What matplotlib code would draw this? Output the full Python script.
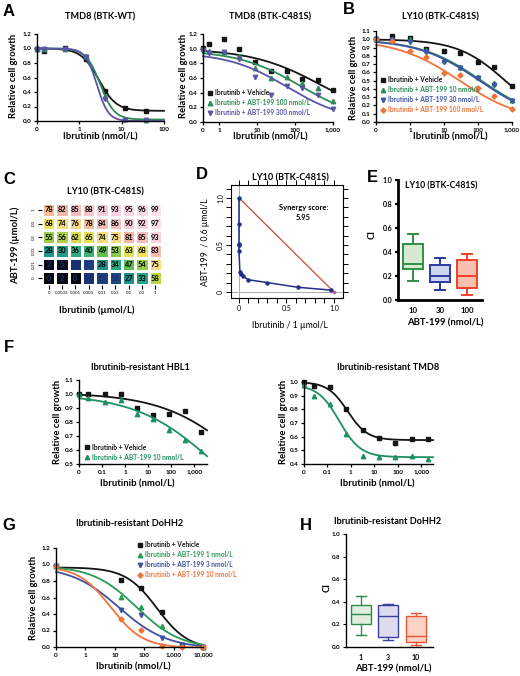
import numpy as np
import matplotlib
matplotlib.use("Agg")
import matplotlib.pyplot as plt
from matplotlib.colors import LinearSegmentedColormap
from matplotlib.ticker import FixedLocator, NullLocator, MultipleLocator

plt.rcParams['font.family'] = ['Lato', 'DejaVu Sans']
plt.rcParams['font.weight'] = 'bold'
plt.rcParams['axes.labelweight'] = 'bold'

# ---------------- data ----------------
BLACK = '#151515'
GREEN = '#2e8b57'
PURPLE = '#5a55a8'
BLUE = '#3f55a8'
ORANGE = '#f0743a'

# A left: TMD8 (BTK-WT)
a_wt_dose = [0, 0.15, 0.46, 1.4, 4.1, 12.3, 37]
a_wt_vehicle = [1.0, 0.97, 1.01, 0.85, 0.41, 0.18, 0.14]
a_wt_abt100 = [1.0, 1.0, 1.0, 0.89, 0.35, 0.03, 0.02]
a_wt_abt300 = [1.0, 1.0, 1.0, 0.88, 0.30, 0.01, 0.01]
# fit params: top, bottom, ic50, slope
a_wt_fits = [[1.0, 0.14, 2.87, 2.1], [1.0, 0.02, 3.1, 2.6], [1.0, 0.0, 2.6, 3.2]]

# A right: TMD8 (BTK-C481S)
a_mut_dose = [0, 0.53, 1.3, 3.3, 8.7, 23, 60, 153, 390, 1000]
a_mut_vehicle = [1.01, 1.06, 1.13, 0.99, 0.82, 0.70, 0.70, 0.59, 0.57, 0.43]
a_mut_abt100 = [1.0, 0.97, 0.96, 0.90, 0.73, 0.60, 0.62, 0.53, 0.47, 0.28]
a_mut_abt300 = [0.98, 0.94, 0.95, 0.86, 0.61, 0.37, 0.49, 0.46, 0.37, 0.18]
a_mut_fits = [[1.0, 0.0, 504, 0.47], [0.98, 0.0, 140, 0.52], [0.95, 0.0, 63, 0.55]]

# B: LY10 (BTK-C481S)
b_dose = [0, 0.3, 1, 3, 10, 30, 100, 300, 1000]
b_vehicle = [1.0, 1.04, 1.01, 0.88, 0.86, 0.84, 0.73, 0.67, 0.43]
b_abt10 = [1.0, 1.0, 1.0, 0.87, 0.75, 0.67, 0.54, 0.47, 0.26]
b_abt30 = [1.0, 0.99, 0.97, 0.85, 0.73, 0.65, 0.53, 0.45, 0.25]
b_abt100 = [1.0, 0.98, 0.86, 0.78, 0.59, 0.565, 0.415, 0.32, 0.16]
b_fits = [[1.0, 0.0, 630, 0.62], [1.0, 0.0, 125, 0.48], [1.0, 0.0, 110, 0.48], [1.0, 0.0, 28.7, 0.467]]

# C: heatmap (% inhibition), rows ABT-199 0 -> 1 umol/L
c_ibr_labels = ['0', '0.0003', '0.001', '0.003', '0.01', '0.03', '0.1', '0.3', '1']
c_abt_labels = ['0', '0.01', '0.03', '0.1', '0.3', '1']
c_row_0 = [0, 2, 0, 12, 15, 16, 27, 33, 58]
c_row_001 = [2, 5, 11, 15, 28, 34, 47, 54, 75]
c_row_003 = [28, 30, 36, 40, 49, 53, 63, 68, 83]
c_row_01 = [55, 56, 62, 65, 74, 75, 81, 85, 93]
c_row_03 = [68, 74, 76, 78, 84, 86, 90, 92, 97]
c_row_1 = [78, 82, 85, 88, 91, 93, 95, 96, 99]

# D: isobologram
d_iso_x = [0, 0, 0, 0, 0, 0.01, 0.02, 0.04, 0.1, 0.3, 0.62, 0.97]
d_iso_y = [1.0, 0.72, 0.51, 0.50, 0.44, 0.21, 0.19, 0.17, 0.13, 0.10, 0.05, 0.02]
d_add_x = [0, 1]
d_add_y = [1, 0]

# E: CI boxes
e_doses = ['10', '30', '100']
e_whislo = [0.16, 0.08, 0.04]
e_q1 = [0.26, 0.15, 0.10]
e_med = [0.30, 0.20, 0.20]
e_q3 = [0.47, 0.29, 0.33]
e_whishi = [0.55, 0.35, 0.38]

# F left: Ibrutinib-resistant HBL1
f_dose = [0, 0.0256, 0.128, 0.64, 3.2, 16, 80, 400, 2000]
f_hbl1_vehicle = [1.0, 1.0, 1.0, 1.0, 0.90, 0.85, 0.86, 0.88, 0.73]
f_hbl1_abt10 = [1.0, 0.97, 0.94, 0.96, 0.86, 0.82, 0.74, 0.67, 0.59]
f_hbl1_fits = [[1.01, 0.0, 2.0e5, 0.25], [1.0, 0.0, 8440, 0.253]]

# F right: Ibrutinib-resistant TMD8
f_tmd8_vehicle = [1.0, 0.97, 0.96, 0.80, 0.65, 0.59, 0.55, 0.58, 0.585]
f_tmd8_abt10 = [0.98, 0.895, 0.84, 0.62, 0.456, 0.449, 0.449, 0.458, 0.434]
f_tmd8_fits = [[1.0, 0.575, 0.72, 1.03], [0.98, 0.45, 0.32, 0.95]]

# G: Ibrutinib-resistant DoHH2
g_dose = [0, 16, 80, 400, 2000, 10000]
g_vehicle = [0.98, 0.815, 0.713, 0.42, 0.02, 0.0]
g_abt1 = [0.985, 0.61, 0.49, 0.25, 0.02, 0.0]
g_abt3 = [0.98, 0.45, 0.39, 0.11, 0.02, 0.0]
g_abt10 = [0.98, 0.34, 0.21, 0.01, 0.0, 0.0]
g_fits = [[0.965, -0.03, 275, 0.81], [0.985, -0.02, 55, 0.58], [0.98, -0.02, 13.8, 0.53], [0.98, -0.01, 7.2, 0.79]]

# H: CI boxes
h_doses = ['1', '3', '10']
h_whislo = [0.11, 0.06, 0.02]
h_q1 = [0.20, 0.09, 0.045]
h_med = [0.29, 0.275, 0.10]
h_q3 = [0.37, 0.37, 0.27]
h_whishi = [0.45, 0.38, 0.30]

# ---------------- figure ----------------
W, H = 520, 676
fig = plt.figure(figsize=(W / 100, H / 100), dpi=100)


def box(x0, y0, x1, y1):
    return [x0 / W, 1 - y1 / H, (x1 - x0) / W, (y1 - y0) / H]


def ftext(x, y, s, **kw):
    kw.setdefault('ha', 'center')
    kw.setdefault('va', 'center')
    fig.text(x / W, 1 - y / H, s, **kw)


def hill(x, top, bottom, ic50, slope):
    return bottom + (top - bottom) / (1 + (x / ic50) ** slope)


def style_ax(ax, tick_fs=4.6):
    for s in ['top', 'right']:
        ax.spines[s].set_visible(False)
    for s in ['left', 'bottom']:
        ax.spines[s].set_linewidth(1.0)
    ax.tick_params(direction='out', length=2.5, width=0.9, labelsize=tick_fs, pad=1.5)


def dose_panel(rect, zero, xmax, doses, series, fits, ylim, ystep, xticks, xlabels):
    ax = fig.add_axes(box(*rect))
    x = np.array(doses, float)
    x = np.where(x == 0, zero, x)
    xx = np.logspace(np.log10(zero), np.log10(xmax), 300)
    for (label, vals, color, marker), fit in zip(series, fits):
        ax.plot(xx, hill(xx, *fit), color=color, lw=1.3, clip_on=False)
        ax.plot(x, vals, ls='none', marker=marker, color=color, ms=3.2,
                label=label, clip_on=False)
    ax.set_xscale('log')
    ax.set_xlim(zero, xmax)
    ax.xaxis.set_major_locator(FixedLocator(xticks))
    ax.xaxis.set_minor_locator(NullLocator())
    ax.set_xticklabels(xlabels)
    ax.set_ylim(*ylim)
    ax.yaxis.set_major_locator(MultipleLocator(ystep))
    ax.yaxis.set_major_formatter(plt.FormatStrFormatter('%.1f'))
    style_ax(ax)
    return ax


def legend(ax, loc, anchor, fs=4.8):
    ax.legend(loc=loc, bbox_to_anchor=anchor, frameon=False, fontsize=fs,
              labelcolor='linecolor', handlelength=0.8, handletextpad=0.4,
              borderpad=0, borderaxespad=0, labelspacing=0.45)


TITLE_FS = 6.6
LAB_FS = 6.8
LET_FS = 12

# panel letters
for x, y, s in [(9, 12, 'A'), (349, 10, 'B'), (9, 179, 'C'), (202, 175, 'D'),
                (372, 177, 'E'), (9, 348, 'F'), (9, 525, 'G'), (306, 526, 'H')]:
    ftext(x, y, s, fontsize=LET_FS, family=['Liberation Sans', 'DejaVu Sans'])

# ---- A left ----
ax = dose_panel((37, 34, 164, 121), 0.1, 100, a_wt_dose,
                [('Ibrutinib + Vehicle', a_wt_vehicle, BLACK, 's'),
                 ('Ibrutinib + ABT-199 100 nmol/L', a_wt_abt100, GREEN, '^'),
                 ('Ibrutinib + ABT-199 300 nmol/L', a_wt_abt300, PURPLE, 'v')],
                a_wt_fits, (0, 1.2), 0.2, [0.1, 1, 10, 100], ['0', '1', '10', '100'])
ftext(100, 17, 'TMD8 (BTK-WT)', fontsize=TITLE_FS)
ftext(14, 76, 'Relative cell growth', rotation=90, fontsize=LAB_FS)
ftext(100, 137, 'Ibrutinib (nmol/L)', fontsize=LAB_FS)

# ---- A right ----
ax = dose_panel((203, 34, 333, 122), 0.37, 1000, a_mut_dose,
                [('Ibrutinib + Vehicle', a_mut_vehicle, BLACK, 's'),
                 ('Ibrutinib + ABT-199 100 nmol/L', a_mut_abt100, GREEN, '^'),
                 ('Ibrutinib + ABT-199 300 nmol/L', a_mut_abt300, PURPLE, 'v')],
                a_mut_fits, (0, 1.2), 0.2, [0.37, 1, 10, 100, 1000],
                ['0', '1', '10', '100', '1,000'])
legend(ax, 'lower left', (0.03, 0.07))
ftext(270, 17, 'TMD8 (BTK-C481S)', fontsize=TITLE_FS)
ftext(183, 76, 'Relative cell growth', rotation=90, fontsize=LAB_FS)
ftext(270, 137, 'Ibrutinib (nmol/L)', fontsize=LAB_FS)

# ---- B ----
ax = dose_panel((376, 31, 512, 122), 0.1, 1000, b_dose,
                [('Ibrutinib + Vehicle', b_vehicle, BLACK, 's'),
                 ('Ibrutinib + ABT-199 10 nmol/L', b_abt10, GREEN, '^'),
                 ('Ibrutinib + ABT-199 30 nmol/L', b_abt30, BLUE, 'v'),
                 ('Ibrutinib + ABT-199 100 nmol/L', b_abt100, ORANGE, 'D')],
                b_fits, (0, 1.1), 0.1, [0.1, 1, 10, 100, 1000],
                ['0', '1', '10', '100', '1,000'])
for ln in ax.lines:
    if ln.get_marker() == 'D':
        ln.set_markersize(2.6)
legend(ax, 'lower left', (0.03, 0.1))
ftext(440, 17, 'LY10 (BTK-C481S)', fontsize=TITLE_FS)
ftext(354, 78, 'Relative cell growth', rotation=90, fontsize=LAB_FS)
ftext(450, 137, 'Ibrutinib (nmol/L)', fontsize=LAB_FS)

# ---- C heatmap ----
cmap = LinearSegmentedColormap.from_list('syn', [
    (0.00, '#08080c'), (0.06, '#0f1228'), (0.11, '#1a3070'), (0.17, '#1f4a8a'),
    (0.25, '#1f8a90'), (0.32, '#22a488'), (0.40, '#3bb070'), (0.50, '#6cc04c'),
    (0.57, '#b4d448'), (0.64, '#e4e250'), (0.70, '#f6e464'), (0.76, '#f7d88a'),
    (0.79, '#f4b39c'), (0.86, '#f5bfc0'), (0.92, '#f8d0e0'), (1.00, '#fde4ef')])
grid = np.array([c_row_0, c_row_001, c_row_003, c_row_01, c_row_03, c_row_1])
ax = fig.add_axes(box(42, 203, 162, 285))
ax.pcolormesh(np.arange(grid.shape[1] + 1), np.arange(grid.shape[0] + 1), grid,
              cmap=cmap, vmin=0, vmax=100, edgecolors='white', linewidth=1.0)
for i in range(grid.shape[0]):
    for j in range(grid.shape[1]):
        v = grid[i, j]
        ax.text(j + 0.5, i + 0.5, str(v), ha='center', va='center', fontsize=5.4,
                color='#1c2f6a' if v < 20 else 'black')
ax.set_xlim(0, grid.shape[1])
ax.set_ylim(0, grid.shape[0])
ax.set_xticks(np.arange(grid.shape[1]) + 0.5)
ax.set_xticklabels(c_ibr_labels, fontsize=3.2, fontweight='normal')
ax.set_yticks(np.arange(grid.shape[0]) + 0.5)
ax.set_yticklabels(c_abt_labels, fontsize=3.2, fontweight='normal', rotation=90, va='center')
for s in ax.spines.values():
    s.set_visible(False)
ax.tick_params(length=3, width=0.8, pad=1.5)
ftext(105, 192, 'LY10 (BTK-C481S)', fontsize=TITLE_FS)
ftext(15, 245, 'ABT-199 (µmol/L)', rotation=90, fontsize=LAB_FS)
ftext(97, 310, 'Ibrutinib (µmol/L)', fontsize=LAB_FS)

# ---- D isobologram ----
ax = fig.add_axes(box(231, 185, 343, 298))
ax.axhline(0, color='#aaaaaa', lw=0.7)
ax.axvline(0, color='#aaaaaa', lw=0.7)
ax.plot(d_add_x, d_add_y, color='#c8483a', lw=0.9)
ax.plot(d_iso_x, d_iso_y, color='#1f2f8a', lw=1.1, marker='o', ms=2.2)
ax.plot(d_add_x[-1:], d_add_y[-1:], ls='none', marker='s', ms=2, color='#c060a0')
ax.set_xlim(-0.084, 1.095)
ax.set_ylim(-0.064, 1.138)
ax.xaxis.set_major_locator(FixedLocator([0, 0.5, 1.0]))
ax.xaxis.set_minor_locator(MultipleLocator(0.1))
ax.yaxis.set_major_locator(FixedLocator([0, 0.5, 1.0]))
ax.yaxis.set_minor_locator(MultipleLocator(0.1))
ax.set_xticklabels(['0', '0.5', '1.0'], fontweight='normal')
ax.set_yticklabels(['0', '0.5', '1.0'], fontweight='normal', rotation=90, va='center')
ax.tick_params(which='both', direction='out', top=True, right=True, labelsize=5,
               width=0.7, pad=1.5)
ax.tick_params(which='major', length=3.5)
ax.tick_params(which='minor', length=3.5)
for s in ax.spines.values():
    s.set_linewidth(0.8)
ax.text(0.68, 0.85, 'Synergy score:\n5.95', ha='center', va='center', fontsize=5.5,
        linespacing=1.5)
ftext(290, 178, 'LY10 (BTK-C481S)', fontsize=TITLE_FS)
ftext(206, 242, 'ABT-199  / 0.6 µmol/L', rotation=90, fontsize=6.2, fontweight='normal')
ftext(290, 325, 'Ibrutinib / 1 µmol/L', fontsize=6.2, fontweight='normal')


# ---- CI box panels ----
def ci_panel(rect, xlim, doses, whislo, q1, med, q3, whishi, edges, fills, lw, spine_lw, tick_fs):
    ax = fig.add_axes(box(*rect))
    stats = [dict(whislo=a, q1=b, med=c, q3=d, whishi=e, fliers=[])
             for a, b, c, d, e in zip(whislo, q1, med, q3, whishi)]
    bp = ax.bxp(stats, positions=[1, 2, 3], widths=0.72, capwidths=0.36,
                patch_artist=True, showfliers=False)
    for k in range(3):
        bp['boxes'][k].set(facecolor=fills[k], edgecolor=edges[k], linewidth=lw)
        bp['medians'][k].set(color=edges[k], linewidth=lw)
        for art in bp['whiskers'][2 * k:2 * k + 2] + bp['caps'][2 * k:2 * k + 2]:
            art.set(color=edges[k], linewidth=lw)
    ax.set_xlim(*xlim)
    ax.set_ylim(0, 1.0)
    ax.yaxis.set_major_locator(MultipleLocator(0.2))
    ax.yaxis.set_major_formatter(plt.FormatStrFormatter('%.1f'))
    ax.set_xticks([1, 2, 3])
    ax.set_xticklabels(doses)
    style_ax(ax, tick_fs)
    for s in ['left', 'bottom']:
        ax.spines[s].set_linewidth(spine_lw)
    ax.tick_params(axis='x', length=0, pad=5, labelsize=tick_fs + 0.6)
    ax.tick_params(axis='y', width=spine_lw * 0.8)
    return ax


ci_panel((398, 180, 482, 300), (0.44, 3.55), e_doses, e_whislo, e_q1, e_med, e_q3, e_whishi,
         ['#2f8f46', '#2a3aa0', '#f0402a'], ['#d5ead0', '#d0d4ee', '#f9c0b0'], 1.4, 2.0, 5.0)
ftext(441, 186, 'LY10 (BTK-C481S)', fontsize=6.2)
ftext(372, 235, 'CI', rotation=90, fontsize=LAB_FS)
ftext(445, 323, 'ABT-199 (nmol/L)', fontsize=LAB_FS)

# ---- F left ----
ax = dose_panel((79, 380, 207, 464), 0.01, 3500, f_dose,
                [('Ibrutinib + Vehicle', f_hbl1_vehicle, BLACK, 's'),
                 ('Ibrutinib + ABT-199 10 nmol/L', f_hbl1_abt10, '#1f9060', '^')],
                f_hbl1_fits, (0.5, 1.1), 0.1, [0.01, 0.1, 1, 10, 100, 1000],
                ['0', '0.1', '1', '10', '100', '1,000'])
legend(ax, 'lower left', (0.04, 0.04))
ftext(140, 367, 'Ibrutinib-resistant HBL1', fontsize=TITLE_FS)
ftext(57, 422, 'Relative cell growth', rotation=90, fontsize=LAB_FS)
ftext(137, 484, 'Ibrutinib (nmol/L)', fontsize=LAB_FS)

# ---- F right ----
ax = dose_panel((304, 382, 433, 464), 0.01, 3200, f_dose,
                [('Ibrutinib + Vehicle', f_tmd8_vehicle, BLACK, 's'),
                 ('Ibrutinib + ABT-199 10 nmol/L', f_tmd8_abt10, '#1f9060', '^')],
                f_tmd8_fits, (0.4, 1.0), 0.1, [0.01, 0.1, 1, 10, 100, 1000],
                ['0', '0.1', '1', '10', '100', '1,000'])
ftext(388, 367, 'Ibrutinib-resistant TMD8', fontsize=TITLE_FS)
ftext(283, 422, 'Relative cell growth', rotation=90, fontsize=LAB_FS)
ftext(377, 484, 'Ibrutinib (nmol/L)', fontsize=LAB_FS)

# ---- G ----
ax = dose_panel((56, 548, 203, 647), 0.1, 10000, g_dose,
                [('Ibrutinib + Vehicle', g_vehicle, BLACK, 's'),
                 ('Ibrutinib + ABT-199 1 nmol/L', g_abt1, '#2a9a55', '^'),
                 ('Ibrutinib + ABT-199 3 nmol/L', g_abt3, '#4050a0', 'v'),
                 ('Ibrutinib + ABT-199 10 nmol/L', g_abt10, ORANGE, 'D')],
                g_fits, (0, 1.2), 0.2, [0.1, 1, 10, 100, 1000, 10000],
                ['0', '1', '10', '100', '1,000', '10,000'])
for ln in ax.lines:
    if ln.get_marker() == 'D':
        ln.set_markersize(2.6)
legend(ax, 'upper left', (0.55, 1.07))
ftext(130, 523, 'Ibrutinib-resistant DoHH2', fontsize=TITLE_FS)
ftext(33, 598, 'Relative cell growth', rotation=90, fontsize=LAB_FS)
ftext(133, 667, 'Ibrutinib (nmol/L)', fontsize=LAB_FS)

# ---- H ----
ci_panel((346, 534, 433, 647), (0.47, 3.63), h_doses, h_whislo, h_q1, h_med, h_q3, h_whishi,
         ['#2d8a4a', '#3a3f9a', '#ee5533'], ['#dfeedd', '#dcdcee', '#fbd3c6'], 1.0, 1.0, 4.4)
ftext(388, 522, 'Ibrutinib-resistant DoHH2', fontsize=TITLE_FS)
ftext(327, 587, 'CI', rotation=90, fontsize=LAB_FS)
ftext(393, 669, 'ABT-199 (nmol/L)', fontsize=LAB_FS)

fig.savefig('out.png', dpi=100)
